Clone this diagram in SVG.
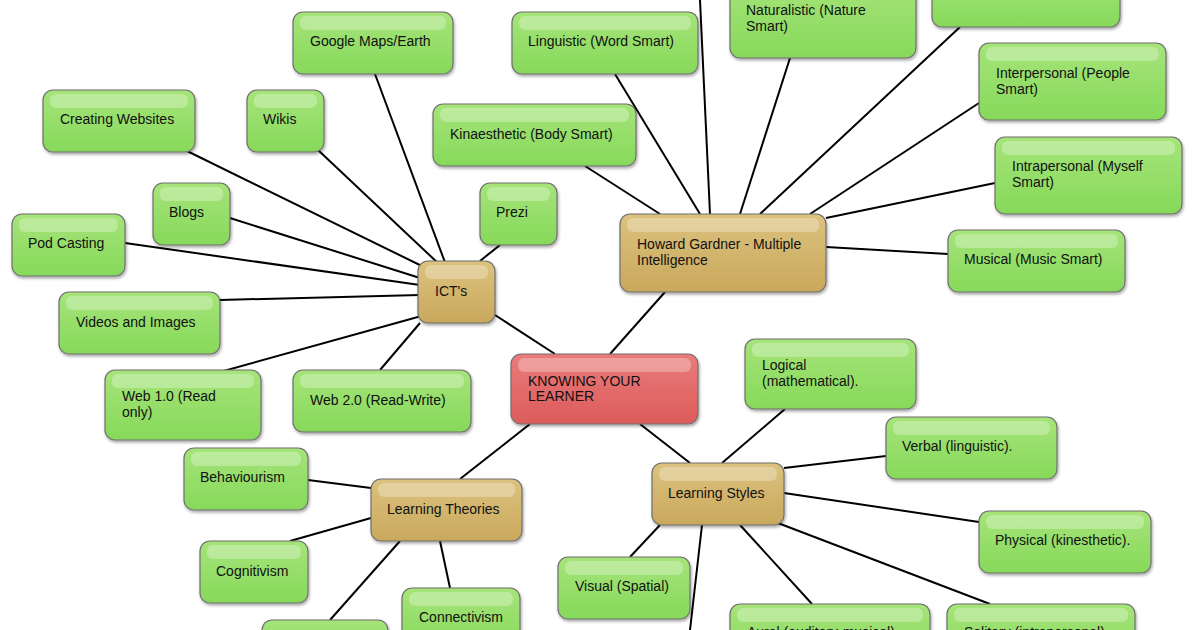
<svg xmlns="http://www.w3.org/2000/svg" width="1200" height="630" viewBox="0 0 1200 630">
<defs>
<linearGradient id="gG" x1="0" y1="0" x2="0" y2="1"><stop offset="0" stop-color="#a6e47a"/><stop offset="1" stop-color="#86d95a"/></linearGradient>
<linearGradient id="gT" x1="0" y1="0" x2="0" y2="1"><stop offset="0" stop-color="#dcc27e"/><stop offset="1" stop-color="#c9a85c"/></linearGradient>
<linearGradient id="gR" x1="0" y1="0" x2="0" y2="1"><stop offset="0" stop-color="#ea7b7b"/><stop offset="1" stop-color="#dd5b5b"/></linearGradient>
<filter id="sh" x="-10%" y="-10%" width="130%" height="140%"><feDropShadow dx="1" dy="2" stdDeviation="1.5" flood-color="#000" flood-opacity="0.35"/></filter>
</defs>
<style>
.b{stroke:#6f6f6f;stroke-width:1.2;filter:url(#sh)}
.g{fill:url(#gG)}.t{fill:url(#gT)}.r{fill:url(#gR)}
.hl{fill:#fff;opacity:0.28}
text{font-family:"Liberation Sans",Arial,sans-serif;font-size:14px;fill:#111}
.c line{stroke:#000;stroke-width:2}
</style>
<rect width="1200" height="630" fill="#fff"/>
<g class="c">
<line x1="456" y1="292" x2="375" y2="74"/>
<line x1="440" y1="265" x2="318" y2="150"/>
<line x1="430" y1="270" x2="185" y2="150"/>
<line x1="420" y1="278" x2="230" y2="218"/>
<line x1="420" y1="285" x2="125" y2="243"/>
<line x1="420" y1="295" x2="220" y2="300"/>
<line x1="425" y1="315" x2="220" y2="372"/>
<line x1="420" y1="323" x2="380" y2="370"/>
<line x1="480" y1="261" x2="500" y2="245"/>
<line x1="495" y1="315" x2="555" y2="354"/>
<line x1="700" y1="214" x2="615" y2="74"/>
<line x1="700" y1="0" x2="710" y2="214"/>
<line x1="740" y1="214" x2="790" y2="58"/>
<line x1="760" y1="214" x2="960" y2="27"/>
<line x1="660" y1="214" x2="585" y2="166"/>
<line x1="810" y1="214" x2="979" y2="103"/>
<line x1="826" y1="218" x2="995" y2="183"/>
<line x1="826" y1="247" x2="948" y2="254"/>
<line x1="665" y1="292" x2="610" y2="354"/>
<line x1="640" y1="424" x2="690" y2="463"/>
<line x1="722" y1="463" x2="785" y2="409"/>
<line x1="784" y1="468" x2="886" y2="456"/>
<line x1="784" y1="493" x2="979" y2="522"/>
<line x1="660" y1="525" x2="630" y2="557"/>
<line x1="702" y1="525" x2="690" y2="630"/>
<line x1="740" y1="525" x2="812" y2="604"/>
<line x1="770" y1="520" x2="990" y2="604"/>
<line x1="530" y1="424" x2="460" y2="479"/>
<line x1="308" y1="480" x2="371" y2="488"/>
<line x1="290" y1="541" x2="371" y2="518"/>
<line x1="440" y1="541" x2="450" y2="588"/>
<line x1="330" y1="620" x2="400" y2="541"/>
</g>
<g id="n-top-right"><rect class="b g" x="932" y="-30" width="188" height="57" rx="10"/></g>
<g id="n-google"><rect class="b g" x="293" y="12" width="160" height="62" rx="10"/><rect class="hl" x="300" y="16" width="146" height="14" rx="6"/><text x="310" y="46">Google Maps/Earth</text></g>
<g id="n-linguistic"><rect class="b g" x="512" y="12" width="186" height="62" rx="10"/><rect class="hl" x="519" y="16" width="172" height="14" rx="6"/><text x="528" y="46">Linguistic (Word Smart)</text></g>
<g id="n-naturalistic"><rect class="b g" x="730" y="-20" width="186" height="78" rx="10"/><text x="746" y="15">Naturalistic (Nature</text><text x="746" y="31">Smart)</text></g>
<g id="n-creating"><rect class="b g" x="43" y="90" width="152" height="62" rx="10"/><rect class="hl" x="50" y="94" width="138" height="14" rx="6"/><text x="60" y="124">Creating Websites</text></g>
<g id="n-wikis"><rect class="b g" x="247" y="90" width="77" height="62" rx="10"/><rect class="hl" x="254" y="94" width="63" height="14" rx="6"/><text x="263" y="124">Wikis</text></g>
<g id="n-kinaesthetic"><rect class="b g" x="433" y="104" width="203" height="62" rx="10"/><rect class="hl" x="440" y="108" width="189" height="14" rx="6"/><text x="450" y="139">Kinaesthetic (Body Smart)</text></g>
<g id="n-interpersonal"><rect class="b g" x="979" y="43" width="187" height="77" rx="10"/><rect class="hl" x="986" y="47" width="173" height="14" rx="6"/><text x="996" y="78">Interpersonal (People</text><text x="996" y="94">Smart)</text></g>
<g id="n-intrapersonal"><rect class="b g" x="995" y="137" width="187" height="77" rx="10"/><rect class="hl" x="1002" y="141" width="173" height="14" rx="6"/><text x="1012" y="171">Intrapersonal (Myself</text><text x="1012" y="187">Smart)</text></g>
<g id="n-blogs"><rect class="b g" x="153" y="183" width="77" height="62" rx="10"/><rect class="hl" x="160" y="187" width="63" height="14" rx="6"/><text x="169" y="217">Blogs</text></g>
<g id="n-prezi"><rect class="b g" x="480" y="183" width="77" height="62" rx="10"/><rect class="hl" x="487" y="187" width="63" height="14" rx="6"/><text x="496" y="217">Prezi</text></g>
<g id="n-pod"><rect class="b g" x="12" y="214" width="113" height="62" rx="10"/><rect class="hl" x="19" y="218" width="99" height="14" rx="6"/><text x="28" y="248">Pod Casting</text></g>
<g id="n-gardner"><rect class="b t" x="620" y="214" width="206" height="78" rx="10"/><rect class="hl" x="627" y="218" width="192" height="14" rx="6"/><text x="637" y="249">Howard Gardner - Multiple</text><text x="637" y="265">Intelligence</text></g>
<g id="n-musical"><rect class="b g" x="948" y="230" width="177" height="62" rx="10"/><rect class="hl" x="955" y="234" width="163" height="14" rx="6"/><text x="964" y="264">Musical (Music Smart)</text></g>
<g id="n-ict"><rect class="b t" x="418" y="261" width="77" height="62" rx="10"/><rect class="hl" x="425" y="265" width="63" height="14" rx="6"/><text x="435" y="296">ICT's</text></g>
<g id="n-videos"><rect class="b g" x="59" y="292" width="161" height="62" rx="10"/><rect class="hl" x="66" y="296" width="147" height="14" rx="6"/><text x="76" y="327">Videos and Images</text></g>
<g id="n-web1"><rect class="b g" x="105" y="370" width="156" height="70" rx="10"/><rect class="hl" x="112" y="374" width="142" height="14" rx="6"/><text x="122" y="401">Web 1.0 (Read</text><text x="122" y="417">only)</text></g>
<g id="n-web2"><rect class="b g" x="293" y="370" width="178" height="62" rx="10"/><rect class="hl" x="300" y="374" width="164" height="14" rx="6"/><text x="310" y="405">Web 2.0 (Read-Write)</text></g>
<g id="n-knowing"><rect class="b r" x="511" y="354" width="187" height="70" rx="10"/><rect class="hl" x="518" y="358" width="173" height="14" rx="6"/><text x="528" y="386">KNOWING YOUR</text><text x="528" y="401">LEARNER</text></g>
<g id="n-logical"><rect class="b g" x="745" y="339" width="171" height="70" rx="10"/><rect class="hl" x="752" y="343" width="157" height="14" rx="6"/><text x="762" y="370">Logical</text><text x="762" y="386">(mathematical).</text></g>
<g id="n-verbal"><rect class="b g" x="886" y="417" width="171" height="62" rx="10"/><rect class="hl" x="893" y="421" width="157" height="14" rx="6"/><text x="902" y="451">Verbal (linguistic).</text></g>
<g id="n-behaviourism"><rect class="b g" x="184" y="448" width="124" height="62" rx="10"/><rect class="hl" x="191" y="452" width="110" height="14" rx="6"/><text x="200" y="482">Behaviourism</text></g>
<g id="n-styles"><rect class="b t" x="652" y="463" width="132" height="62" rx="10"/><rect class="hl" x="659" y="467" width="118" height="14" rx="6"/><text x="668" y="498">Learning Styles</text></g>
<g id="n-theories"><rect class="b t" x="371" y="479" width="151" height="62" rx="10"/><rect class="hl" x="378" y="483" width="137" height="14" rx="6"/><text x="387" y="514">Learning Theories</text></g>
<g id="n-physical"><rect class="b g" x="979" y="511" width="172" height="62" rx="10"/><rect class="hl" x="986" y="515" width="158" height="14" rx="6"/><text x="995" y="545">Physical (kinesthetic).</text></g>
<g id="n-cognitivism"><rect class="b g" x="200" y="541" width="108" height="62" rx="10"/><rect class="hl" x="207" y="545" width="94" height="14" rx="6"/><text x="216" y="576">Cognitivism</text></g>
<g id="n-visual"><rect class="b g" x="558" y="557" width="132" height="62" rx="10"/><rect class="hl" x="565" y="561" width="118" height="14" rx="6"/><text x="575" y="591">Visual (Spatial)</text></g>
<g id="n-connectivism"><rect class="b g" x="402" y="588" width="118" height="62" rx="10"/><rect class="hl" x="409" y="592" width="104" height="14" rx="6"/><text x="419" y="622">Connectivism</text></g>
<g id="n-bottom-left"><rect class="b g" x="262" y="620" width="126" height="40" rx="10"/></g>
<g id="n-aural"><rect class="b g" x="730" y="604" width="200" height="60" rx="10"/><rect class="hl" x="737" y="608" width="186" height="14" rx="6"/><text x="747" y="637">Aural (auditory-musical).</text></g>
<g id="n-solitary"><rect class="b g" x="947" y="604" width="188" height="60" rx="10"/><rect class="hl" x="954" y="608" width="174" height="14" rx="6"/><text x="964" y="637">Solitary (intrapersonal).</text></g>
</svg>
